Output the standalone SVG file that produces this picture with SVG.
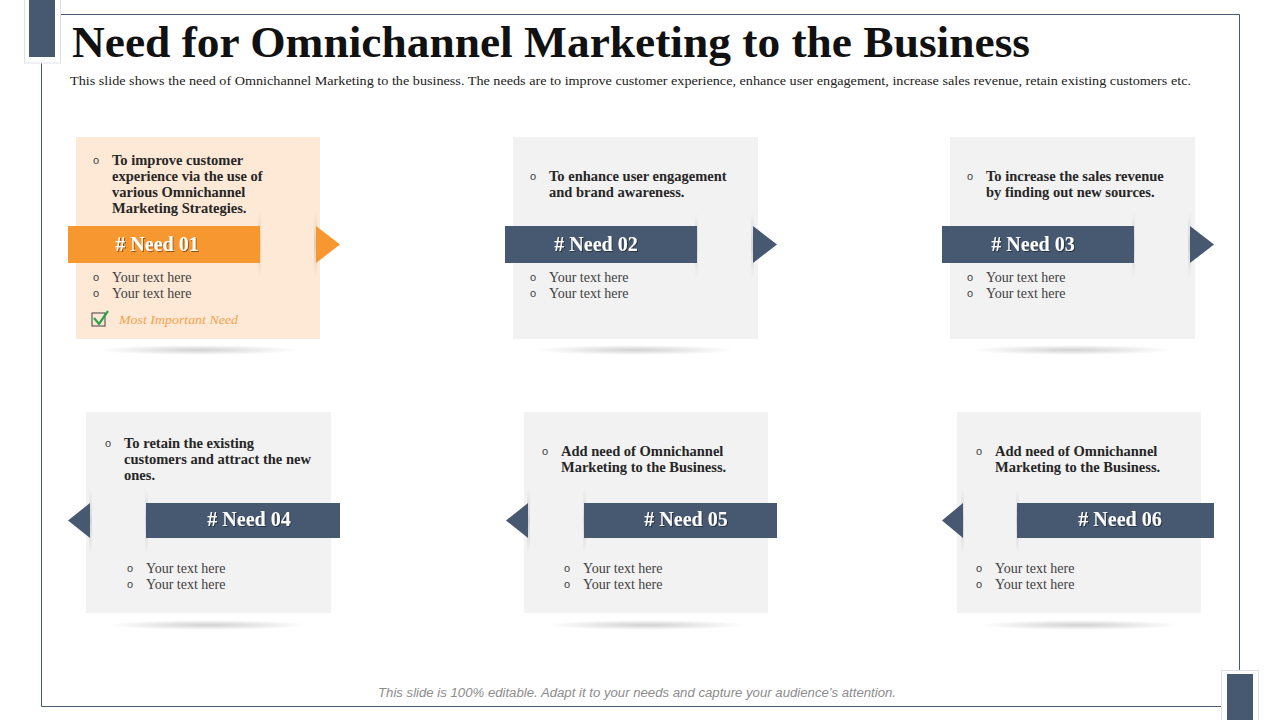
<svg xmlns="http://www.w3.org/2000/svg" width="1280" height="720" viewBox="0 0 1280 720">
<style>
.t{font-family:"Liberation Serif","DejaVu Serif",serif;fill:#262626}
.b{font-weight:bold;font-size:14.5px}
.r{font-size:14px;fill:#404040}
.blt{font-family:"Liberation Sans",sans-serif;font-size:11px;fill:#404040}
.lbl{font-family:"Liberation Serif","DejaVu Serif",serif;font-weight:bold;font-size:20px;fill:#ffffff;text-anchor:middle}
.slate{fill:#475970}
.org{fill:#F7972F}
.gcard{fill:#F2F2F2}
.ocard{fill:#FDE9D6}
.fold{fill:url(#foldg)}
</style>
<defs>
<radialGradient id="sh" cx="0.5" cy="0.5" r="0.5">
<stop offset="0" stop-color="#000" stop-opacity="0.18"/>
<stop offset="1" stop-color="#000" stop-opacity="0"/>
</radialGradient>
<linearGradient id="foldg" x1="0" y1="0" x2="0" y2="1">
<stop offset="0" stop-color="#000" stop-opacity="0"/>
<stop offset="0.5" stop-color="#000" stop-opacity="0.12"/>
<stop offset="1" stop-color="#000" stop-opacity="0"/>
</linearGradient>
<filter id="ts" x="-10%" y="-20%" width="120%" height="140%">
<feDropShadow dx="1" dy="1" stdDeviation="0.6" flood-color="#000" flood-opacity="0.45"/>
</filter>
</defs>
<rect width="1280" height="720" fill="#ffffff"/>

<g id="frame" fill="none" stroke="#4a5a70" stroke-width="1">
<line x1="60" y1="14.5" x2="1239.5" y2="14.5"/>
<line x1="1239.5" y1="14.5" x2="1239.5" y2="670"/>
<line x1="41.5" y1="63" x2="41.5" y2="706.5"/>
<line x1="41.5" y1="706.5" x2="1224" y2="706.5"/>
</g>
<g id="deco-tl">
<rect x="24.5" y="-1" width="36" height="64" fill="#ffffff" stroke="#dde1e8"/>
<rect x="29" y="0" width="26" height="57" class="slate"/>
</g>
<g id="deco-br">
<rect x="1221.5" y="670.5" width="37" height="52" fill="#ffffff" stroke="#dde1e8"/>
<rect x="1227" y="674" width="26" height="46" class="slate"/>
</g>

<text x="72" y="57" font-family="Liberation Serif,serif" font-weight="bold" font-size="44" fill="#111" textLength="958" lengthAdjust="spacingAndGlyphs">Need for Omnichannel Marketing to the Business</text>
<text x="70" y="85" font-family="Liberation Serif,serif" font-size="12" fill="#222" textLength="1121" lengthAdjust="spacingAndGlyphs">This slide shows the need of Omnichannel Marketing to the business. The needs are to improve customer experience, enhance user engagement, increase sales revenue, retain existing customers etc.</text>

<!-- Need 01 -->
<g id="need01">
<ellipse cx="198" cy="350" rx="100" ry="5" fill="url(#sh)"/>
<rect x="76" y="137" width="244" height="202" class="ocard"/>
<rect x="258" y="212" width="3" height="66" class="fold"/>
<rect x="314" y="212" width="3" height="66" class="fold"/>
<rect x="68" y="226" width="192" height="37" class="org"/>
<polygon points="316,226 340,244.5 316,263" class="org"/>
<text x="157" y="251" class="lbl" filter="url(#ts)">#  Need 01</text>
<text x="93" y="164" class="blt">o</text>
<text class="t b"><tspan x="112" y="165">To improve customer</tspan><tspan x="112" y="181">experience via the use of</tspan><tspan x="112" y="197">various Omnichannel</tspan><tspan x="112" y="213">Marketing Strategies.</tspan></text>
<text x="93" y="281" class="blt">o</text><text x="112" y="282" class="t r">Your text here</text>
<text x="93" y="297" class="blt">o</text><text x="112" y="298" class="t r">Your text here</text>
<rect x="92" y="313" width="13" height="13" fill="none" stroke="#404040" stroke-width="1"/>
<polyline points="94,318 99,324 108,311" fill="none" stroke="#2EA24A" stroke-width="2.2"/>
<text x="119" y="324" font-family="Liberation Serif,serif" font-style="italic" font-size="13.5" fill="#F4A24E" textLength="119" lengthAdjust="spacingAndGlyphs">Most Important Need</text>
</g>

<!-- Need 02 -->
<g id="need02">
<ellipse cx="635" cy="350" rx="100" ry="5" fill="url(#sh)"/>
<rect x="513" y="137" width="245" height="202" class="gcard"/>
<rect x="695" y="212" width="3" height="66" class="fold"/>
<rect x="751" y="212" width="3" height="66" class="fold"/>
<rect x="505" y="226" width="192" height="37" class="slate"/>
<polygon points="753,226 777,244.5 753,263" class="slate"/>
<text x="596" y="251" class="lbl" filter="url(#ts)">#  Need 02</text>
<text x="530" y="180" class="blt">o</text>
<text class="t b"><tspan x="549" y="181">To enhance user engagement</tspan><tspan x="549" y="197">and brand awareness.</tspan></text>
<text x="530" y="281" class="blt">o</text><text x="549" y="282" class="t r">Your text here</text>
<text x="530" y="297" class="blt">o</text><text x="549" y="298" class="t r">Your text here</text>
</g>

<!-- Need 03 -->
<g id="need03">
<ellipse cx="1072" cy="350" rx="100" ry="5" fill="url(#sh)"/>
<rect x="950" y="137" width="245" height="202" class="gcard"/>
<rect x="1132" y="212" width="3" height="66" class="fold"/>
<rect x="1188" y="212" width="3" height="66" class="fold"/>
<rect x="942" y="226" width="192" height="37" class="slate"/>
<polygon points="1190,226 1214,244.5 1190,263" class="slate"/>
<text x="1033" y="251" class="lbl" filter="url(#ts)">#  Need 03</text>
<text x="967" y="180" class="blt">o</text>
<text class="t b"><tspan x="986" y="181">To increase the sales revenue</tspan><tspan x="986" y="197">by finding out new sources.</tspan></text>
<text x="967" y="281" class="blt">o</text><text x="986" y="282" class="t r">Your text here</text>
<text x="967" y="297" class="blt">o</text><text x="986" y="298" class="t r">Your text here</text>
</g>

<!-- Need 04 -->
<g id="need04">
<ellipse cx="208" cy="625" rx="100" ry="5" fill="url(#sh)"/>
<rect x="86" y="412" width="245" height="201" class="gcard"/>
<rect x="89" y="488" width="3" height="66" class="fold"/>
<rect x="145" y="488" width="3" height="66" class="fold"/>
<polygon points="90,503 68,520.5 90,538" class="slate"/>
<rect x="146" y="503" width="194" height="35" class="slate"/>
<text x="249" y="526" class="lbl" filter="url(#ts)">#  Need 04</text>
<text x="105" y="447" class="blt">o</text>
<text class="t b"><tspan x="124" y="448">To retain the existing</tspan><tspan x="124" y="464">customers and attract the new</tspan><tspan x="124" y="480">ones.</tspan></text>
<text x="127" y="572" class="blt">o</text><text x="146" y="573" class="t r">Your text here</text>
<text x="127" y="588" class="blt">o</text><text x="146" y="589" class="t r">Your text here</text>
</g>

<!-- Need 05 -->
<g id="need05">
<ellipse cx="646" cy="625" rx="100" ry="5" fill="url(#sh)"/>
<rect x="524" y="412" width="244" height="201" class="gcard"/>
<rect x="527" y="488" width="3" height="66" class="fold"/>
<rect x="583" y="488" width="3" height="66" class="fold"/>
<polygon points="528,503 506,520.5 528,538" class="slate"/>
<rect x="584" y="503" width="193" height="35" class="slate"/>
<text x="686" y="526" class="lbl" filter="url(#ts)">#  Need 05</text>
<text x="542" y="455" class="blt">o</text>
<text class="t b"><tspan x="561" y="456">Add need of Omnichannel</tspan><tspan x="561" y="472">Marketing to the Business.</tspan></text>
<text x="564" y="572" class="blt">o</text><text x="583" y="573" class="t r">Your text here</text>
<text x="564" y="588" class="blt">o</text><text x="583" y="589" class="t r">Your text here</text>
</g>

<!-- Need 06 -->
<g id="need06">
<ellipse cx="1080" cy="625" rx="100" ry="5" fill="url(#sh)"/>
<rect x="957" y="412" width="244" height="201" class="gcard"/>
<rect x="961" y="488" width="3" height="66" class="fold"/>
<rect x="1016" y="488" width="3" height="66" class="fold"/>
<polygon points="963,503 942,520.5 963,538" class="slate"/>
<rect x="1017" y="503" width="197" height="35" class="slate"/>
<text x="1120" y="526" class="lbl" filter="url(#ts)">#  Need 06</text>
<text x="976" y="455" class="blt">o</text>
<text class="t b"><tspan x="995" y="456">Add need of Omnichannel</tspan><tspan x="995" y="472">Marketing to the Business.</tspan></text>
<text x="976" y="572" class="blt">o</text><text x="995" y="573" class="t r">Your text here</text>
<text x="976" y="588" class="blt">o</text><text x="995" y="589" class="t r">Your text here</text>
</g>

<g id="connectors"></g>

<text x="378" y="697" font-family="Liberation Sans,Arial,sans-serif" font-style="italic" font-size="12.5" fill="#8c8c8c" textLength="518" lengthAdjust="spacingAndGlyphs">This slide is 100% editable. Adapt it to your needs and capture your audience’s attention.</text>
</svg>
